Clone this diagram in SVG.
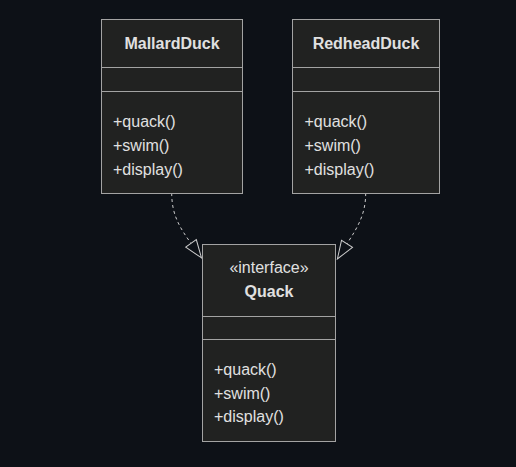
<svg xmlns="http://www.w3.org/2000/svg" width="516" height="467" viewBox="0 0 516 467">
  <style>
    .box { fill: #212221; stroke: #a3a3a3; stroke-width: 1; }
    .div { stroke: #a3a3a3; stroke-width: 1; }
    .title { font-family: "Liberation Sans", Arial, sans-serif; font-size: 16px; font-weight: bold; fill: #e0e0e0; text-anchor: middle; }
    .stereo { font-family: "Liberation Sans", Arial, sans-serif; font-size: 16px; fill: #e0e0e0; text-anchor: middle; }
    .member { font-family: "Liberation Sans", Arial, sans-serif; font-size: 16px; fill: #e0e0e0; }
    .edge { fill: none; stroke: #cccccc; stroke-width: 1; stroke-dasharray: 3 3; marker-end: url(#realization); }
  </style>
  <defs>
    <marker id="realization" markerUnits="userSpaceOnUse" viewBox="-1 -1 20 15" markerWidth="20" markerHeight="15" refX="0" refY="6.5" orient="auto">
      <path d="M0,0 L18,6.5 L0,13 Z" fill="#0d1117" stroke="#cccccc" stroke-width="1"/>
    </marker>
  </defs>
  <rect x="0" y="0" width="516" height="467" fill="#0d1117"/>

  <g id="connectors">
    <path class="edge" d="M171.7,193 C171.7,215 180,228 191,243.3"/>
    <path class="edge" d="M365.7,193 C365.7,215 357,228 347,243.8"/>
  </g>

  <g id="MallardDuck">
    <rect class="box" x="101.5" y="19.5" width="141" height="174"/>
    <line class="div" x1="101.5" y1="67.5" x2="242.5" y2="67.5"/>
    <line class="div" x1="101.5" y1="91.5" x2="242.5" y2="91.5"/>
    <text class="title" x="172" y="49">MallardDuck</text>
    <text class="member" x="113" y="127">+quack()</text>
    <text class="member" x="113" y="151">+swim()</text>
    <text class="member" x="113" y="174.5">+display()</text>
  </g>

  <g id="RedheadDuck">
    <rect class="box" x="292.5" y="19.5" width="147" height="174"/>
    <line class="div" x1="292.5" y1="67.5" x2="439.5" y2="67.5"/>
    <line class="div" x1="292.5" y1="91.5" x2="439.5" y2="91.5"/>
    <text class="title" x="366" y="49">RedheadDuck</text>
    <text class="member" x="304.5" y="127">+quack()</text>
    <text class="member" x="304.5" y="151">+swim()</text>
    <text class="member" x="304.5" y="174.5">+display()</text>
  </g>

  <g id="Quack">
    <rect class="box" x="202.5" y="244.5" width="133" height="197"/>
    <line class="div" x1="202.5" y1="316.5" x2="335.5" y2="316.5"/>
    <line class="div" x1="202.5" y1="339.5" x2="335.5" y2="339.5"/>
    <text class="stereo" x="269" y="273">«interface»</text>
    <text class="title" x="269" y="297">Quack</text>
    <text class="member" x="214" y="375">+quack()</text>
    <text class="member" x="214" y="398.5">+swim()</text>
    <text class="member" x="214" y="422">+display()</text>
  </g>
</svg>
